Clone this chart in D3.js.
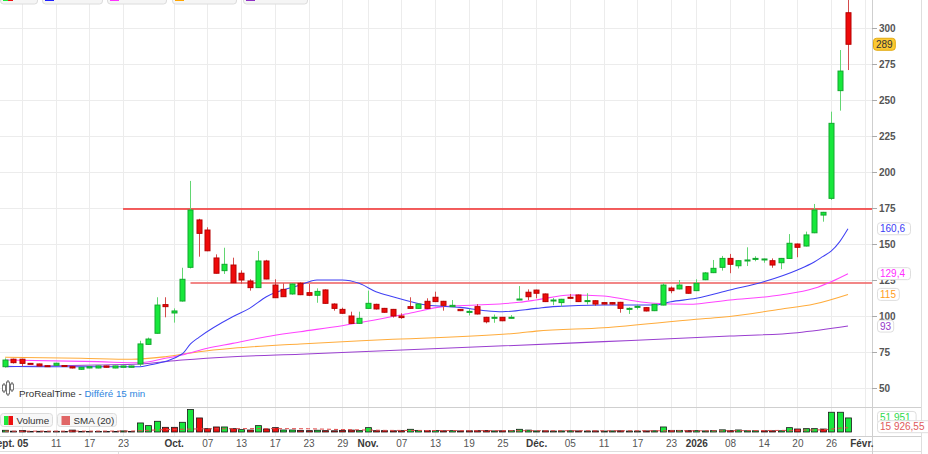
<!DOCTYPE html>
<html>
<head>
<meta charset="utf-8">
<script src="https://cdn.jsdelivr.net/npm/d3@7"></script>
<style>
  body { margin: 0; background: #fff; }
  svg { display: block; font-family: "Liberation Sans", Arial, sans-serif; }
</style>
</head>
<body>
<svg id="chart" width="928" height="454"></svg>
<script>
// daily candles, index 0 = 3 sept. 2025, index 100 = 28 janv. 2026
const opens = [
  64.8, 70.0, 70.0, 67.1, 66.7, 65.5, 65.8, 65.6, 64.8, 63.0,
  63.9, 63.9, 65.3, 63.9, 64.4, 64.4, 66.7, 80.3, 88.0, 107.9,
  102.1, 110.4, 133.8, 166.7, 159.7, 140.3, 131.5, 135.4, 129.7, 124.3,
  119.7, 138.2, 121.5, 118.5, 115.3, 122.7, 116.2, 114.4, 118.1, 108.3,
  104.6, 100.0, 94.9, 105.3, 108.1, 105.3, 104.6, 100.0, 106.5, 105.3,
  110.2, 113.0, 110.2, 106.5, 104.6, 103.0, 106.5, 99.1, 98.5, 99.1,
  98.5, 111.6, 116.5, 118.0, 115.3, 110.9, 109.3, 113.0, 114.6, 110.4,
  110.6, 109.3, 109.3, 109.5, 104.6, 106.3, 105.8, 103.7, 107.6, 119.4,
  118.8, 120.4, 117.6, 125.2, 130.1, 133.8, 140.0, 134.9, 138.6, 139.9,
  139.4, 138.4, 137.0, 140.0, 150.0, 148.6, 157.8, 170.1, 181.7, 256.5,
  310.6
];
const highs = [
  70.6, 70.4, 70.3, 67.4, 66.9, 65.8, 67.5, 65.9, 65.0, 64.6,
  65.0, 65.5, 65.5, 65.5, 65.5, 65.5, 82.8, 85.0, 113.0, 113.0,
  105.3, 133.5, 193.8, 167.5, 161.6, 142.8, 147.4, 140.5, 131.7, 125.5,
  145.1, 139.0, 125.5, 122.7, 122.7, 123.5, 122.2, 119.2, 118.5, 108.8,
  105.8, 103.0, 103.0, 117.6, 108.5, 105.6, 104.9, 101.9, 113.0, 108.6,
  112.3, 116.9, 110.5, 111.1, 104.9, 105.0, 108.3, 99.4, 101.0, 99.4,
  100.6, 120.8, 118.5, 118.3, 115.6, 112.5, 111.9, 115.3, 114.9, 115.8,
  110.9, 109.6, 109.6, 109.8, 106.0, 108.0, 106.1, 108.4, 122.7, 120.5,
  125.0, 120.7, 125.5, 130.5, 138.9, 141.7, 143.1, 138.7, 147.7, 141.5,
  139.9, 140.0, 140.3, 156.9, 150.3, 158.6, 177.8, 172.3, 241.9, 284.7,
  320.0
];
const lows = [
  64.2, 67.0, 65.0, 66.8, 65.0, 64.6, 65.5, 64.8, 63.6, 62.7,
  63.7, 63.7, 64.2, 63.7, 64.2, 64.2, 65.3, 80.0, 87.8, 99.1,
  95.4, 110.0, 133.0, 141.2, 145.0, 129.5, 129.2, 123.0, 122.3, 117.6,
  119.5, 125.5, 112.5, 113.2, 114.8, 114.5, 113.8, 109.2, 108.5, 103.7,
  101.5, 94.5, 94.5, 105.0, 104.5, 102.3, 98.9, 98.0, 105.0, 105.0,
  105.0, 109.7, 103.7, 106.2, 103.4, 100.4, 101.1, 94.9, 95.3, 96.4,
  98.3, 111.0, 111.0, 112.3, 109.7, 107.5, 106.5, 112.0, 109.7, 108.0,
  107.0, 108.0, 108.0, 102.3, 101.4, 104.5, 103.2, 103.4, 107.4, 115.8,
  118.5, 115.5, 117.3, 124.9, 129.8, 131.5, 129.7, 133.0, 134.7, 138.0,
  137.0, 133.5, 132.5, 139.7, 140.8, 148.3, 157.5, 165.5, 180.6, 242.6,
  270.8
];
const closes = [
  69.4, 67.6, 67.1, 67.0, 65.3, 64.8, 67.2, 65.0, 63.9, 64.4,
  64.8, 65.3, 64.4, 65.3, 65.3, 65.3, 80.6, 84.0, 107.6, 106.5,
  103.5, 125.5, 173.6, 157.4, 145.3, 129.7, 135.9, 123.1, 125.0, 119.7,
  138.2, 125.7, 112.7, 113.4, 122.2, 114.8, 114.4, 117.1, 108.8, 105.3,
  101.9, 94.9, 98.4, 108.8, 104.9, 102.6, 100.0, 98.9, 105.3, 108.3,
  105.3, 110.0, 107.4, 107.4, 103.7, 103.2, 101.4, 96.0, 99.1, 96.7,
  99.1, 111.8, 113.4, 115.8, 110.0, 111.1, 111.6, 112.3, 110.0, 110.7,
  108.3, 108.3, 108.3, 105.3, 105.3, 106.7, 103.5, 108.1, 121.5, 117.6,
  121.5, 115.8, 122.7, 129.9, 133.1, 140.0, 135.9, 138.4, 138.9, 140.0,
  139.6, 135.4, 140.0, 150.5, 147.7, 156.3, 173.6, 172.0, 233.8, 270.1,
  288.7
];
const volumes = [
  6300, 3000, 5500, 1500, 2500, 2000, 2500, 2000, 7000, 2000,
  2000, 2000, 2000, 2000, 4000, 2000, 33400, 23500, 39600, 17300,
  17300, 35900, 82800, 51900, 12400, 18600, 18600, 12400, 8700, 7400,
  23500, 11100, 16100, 7400, 7400, 6000, 5000, 6500, 5000, 4500,
  6000, 7000, 5500, 16100, 5000, 5000, 4500, 5000, 10000, 6000,
  5000, 5500, 4500, 5000, 4000, 4500, 5000, 5500, 4000, 4500,
  5000, 10000, 7000, 4000, 4500, 3500, 4000, 4500, 4000, 3500,
  4000, 3500, 4000, 4500, 3500, 3500, 4000, 4500, 18600, 6000,
  6000, 5000, 5000, 4000, 5000, 8000, 5000, 7500, 4500, 4500,
  4500, 4500, 4500, 16100, 11100, 12400, 12400, 11000, 73000, 73000,
  51951
];

// moving averages: [index, value]
const maBlue    = [[0,65.1],[7,64.7],[16,64.7],[17,65.8],[21,73.6],[22,80.6],[23,85.2],[27,99.5],[29,105.3],[31,113.4],[35,121.5],[37,125.0],[40,125.0],[42,122.7],[44,116.9],[46,113.4],[50,107.6],[54,106.0],[57,103.7],[59,103.0],[63,105.3],[65,106.5],[71,107.6],[77,107.6],[79,109.9],[82,112.3],[86,118.1],[90,123.8],[94,132.0],[96,137.5],[97,141.2],[98,145.0],[99,151.5],[100,160.6]];
const maMagenta = [[0,69.4],[11,68.3],[16,67.5],[19,70.6],[21,72.9],[24,77.6],[27,81.0],[31,85.6],[35,89.1],[40,93.3],[48,101.9],[52,106.5],[56,107.6],[61,109.5],[63,111.1],[67,114.6],[71,113.9],[74,111.1],[77,108.8],[81,108.1],[86,111.1],[92,114.6],[96,119.2],[98,123.8],[100,129.4]];
const maOrange  = [[0,71.3],[9,70.6],[15,69.9],[19,71.7],[23,75.2],[27,77.6],[35,80.6],[46,83.8],[61,88.2],[63,89.5],[71,91.9],[82,97.7],[85,99.1],[92,104.7],[96,108.3],[100,115.0]];
const maPurple  = [[0,64.8],[11,66.0],[16,66.7],[21,69.4],[27,71.7],[35,73.4],[71,82.2],[86,86.1],[94,88.4],[100,93.0]];
const volSma    = [[0,3000],[15,3500],[19,9000],[23,11500],[30,12500],[36,12000],[40,9000],[45,6000],[55,5000],[70,4500],[85,4500],[93,6000],[97,8000],[98,10500],[99,13900],[100,15926.55]];

// horizontal levels: value and index where the line starts
const levelValues = [174.1, 122.7];
const levelStarts = [14, 22];

const priceTicks = [50, 75, 100, 125, 150, 175, 200, 225, 250, 275, 300];
const tickIdx    = [2, 6, 10, 14, 20, 24, 28, 32, 36, 40, 43, 47, 51, 55, 59, 63, 67, 71, 75, 79, 82, 86, 90, 94, 98, 102];
const tickLabels = ['Sept. 05','11','17','23','Oct.','07','13','17','23','29','Nov.','07','13','19','25','Déc.','05','11','17','23','2026','08','14','20','26','Févr.'];
const boldLabels = ['Sept. 05','Oct.','Nov.','Déc.','2026','Févr.'];

const W = 928, H = 454;
const plotRight = 872;
const priceBottom = 407, volBottom = 436;

const svg = d3.select('#chart');
const fr = d3.formatLocale({ decimal: ',', thousands: '\u00a0', grouping: [3], currency: ['', '€'] });

const x  = d3.scaleLinear().domain([-0.6, 102.85]).range([0, plotRight]);
const y  = d3.scaleLinear().domain([50, 300]).range([388, 28]);
const yv = d3.scaleLinear().domain([0, 85000]).range([432, 409]);

svg.append('rect').attr('width', W).attr('height', H).attr('fill', '#fff');

svg.append('defs').append('clipPath').attr('id', 'clipPrice')
  .append('rect').attr('x', 0).attr('y', 0).attr('width', plotRight).attr('height', priceBottom);

// grid
const grid = svg.append('g');
grid.selectAll('line.h').data(priceTicks).join('line')
  .attr('x1', 0).attr('x2', plotRight)
  .attr('y1', d => Math.round(y(d)) + 0.5).attr('y2', d => Math.round(y(d)) + 0.5)
  .attr('stroke', '#ececec');
grid.selectAll('line.v').data(tickIdx).join('line')
  .attr('x1', d => Math.round(x(d)) + 0.5).attr('x2', d => Math.round(x(d)) + 0.5)
  .attr('y1', 0).attr('y2', volBottom)
  .attr('stroke', '#ececec');

// top legend boxes (cut off at the top edge)
const legendSw = [['#1ee83c', '#ee1010'], ['#1f1fff'], ['#ff33ff'], ['#ffa500'], ['#8e2fc4']];
const legendX = [0, 42, 107, 172, 243];
const legendW = [37, 60, 59, 64, 64];
legendSw.forEach((sw, k) => {
  svg.append('rect').attr('x', legendX[k] + 0.5).attr('y', -14).attr('width', legendW[k]).attr('height', 18)
    .attr('rx', 3).attr('fill', '#f5f5f5').attr('stroke', '#dcdcdc');
  sw.forEach((c, j) => {
    svg.append('rect').attr('x', legendX[k] + 3 + j * 5).attr('y', -8)
      .attr('width', sw.length > 1 ? 5 : 9).attr('height', 9).attr('fill', c);
  });
});

const price = svg.append('g').attr('clip-path', 'url(#clipPrice)');

// horizontal levels
price.append('line')
  .attr('x1', x(levelStarts[0])).attr('x2', plotRight)
  .attr('y1', Math.round(y(levelValues[0]))).attr('y2', Math.round(y(levelValues[0])))
  .attr('stroke', '#f22a2a').attr('stroke-width', 1.4);
price.append('line')
  .attr('x1', x(levelStarts[1])).attr('x2', plotRight)
  .attr('y1', Math.round(y(levelValues[1]))).attr('y2', Math.round(y(levelValues[1])))
  .attr('stroke', '#f06868').attr('stroke-width', 2).attr('opacity', 0.8);

// moving averages
const maLine = d3.line().x(d => x(d[0])).y(d => y(d[1])).curve(d3.curveMonotoneX);
[[maPurple, '#9a3fd0'], [maOrange, '#ffac3c'], [maMagenta, '#ff44ff'], [maBlue, '#4040f4']].forEach(([data, c]) => {
  price.append('path').datum(data).attr('d', maLine)
    .attr('fill', 'none').attr('stroke', c).attr('stroke-width', 1.05);
});

// candles
const idx = d3.range(closes.length);
const up = i => closes[i] >= opens[i];
const cg = price.append('g');
cg.selectAll('line').data(idx).join('line')
  .attr('x1', i => Math.round(x(i)) + 0.5).attr('x2', i => Math.round(x(i)) + 0.5)
  .attr('y1', i => y(highs[i])).attr('y2', i => y(lows[i]))
  .attr('stroke', i => up(i) ? '#62d672' : '#d44c4c').attr('stroke-width', 1);
cg.selectAll('rect').data(idx).join('rect')
  .attr('x', i => Math.round(x(i)) - 2)
  .attr('y', i => y(Math.max(opens[i], closes[i])))
  .attr('width', 5)
  .attr('height', i => Math.max(1, Math.abs(y(opens[i]) - y(closes[i]))))
  .attr('fill', i => up(i) ? '#17e83b' : '#ee0a0a')
  .attr('stroke', i => up(i) ? '#12a82e' : '#b80000').attr('stroke-width', 1);

// ProRealTime note
const note = svg.append('g');
[[4, 385, 391], [8, 382, 394], [12, 384, 390]].forEach(([cx, y1, y2]) => {
  note.append('line').attr('x1', cx).attr('x2', cx).attr('y1', y1 - 2).attr('y2', y2 + 2).attr('stroke', '#555');
  note.append('rect').attr('x', cx - 1.5).attr('y', y1).attr('width', 3).attr('height', y2 - y1)
    .attr('fill', '#fff').attr('stroke', '#555').attr('stroke-width', 0.8);
});
const nt = note.append('text').attr('x', 19).attr('y', 397).attr('font-size', 9.8);
nt.append('tspan').attr('fill', '#333').text('ProRealTime - ');
nt.append('tspan').attr('fill', '#2f86e0').text('Différé 15 min');

// panel separators
const sep = svg.append('g').attr('stroke', '#cfcfcf');
sep.append('line').attr('x1', 0).attr('x2', 922).attr('y1', priceBottom + 0.5).attr('y2', priceBottom + 0.5);
sep.append('line').attr('x1', 0).attr('x2', 922).attr('y1', volBottom + 0.5).attr('y2', volBottom + 0.5);
sep.append('line').attr('x1', 0).attr('x2', 922).attr('y1', 451.5).attr('y2', 451.5).attr('stroke', '#dedede');
sep.append('line').attr('x1', plotRight + 0.5).attr('x2', plotRight + 0.5).attr('y1', 0).attr('y2', H);
sep.append('line').attr('x1', 921.5).attr('x2', 921.5).attr('y1', 0).attr('y2', H).attr('stroke', '#dedede');
sep.append('line').attr('x1', 118.5).attr('x2', 118.5).attr('y1', 451).attr('y2', H).attr('stroke', '#dedede');

// volume panel
const vg = svg.append('g');
const volUp = i => i === 0 || closes[i] >= closes[i - 1];
vg.selectAll('rect').data(idx).join('rect')
  .attr('x', i => Math.round(x(i)) - 2.5)
  .attr('y', i => yv(volumes[i]))
  .attr('width', 6)
  .attr('height', i => yv(0) - yv(volumes[i]))
  .attr('fill', i => volUp(i) ? '#19e83c' : '#ee1010')
  .attr('stroke', '#1a1a1a').attr('stroke-width', 0.8);
vg.append('path').datum(volSma)
  .attr('d', d3.line().x(d => x(d[0])).y(d => yv(d[1])))
  .attr('fill', 'none').attr('stroke', '#e04848').attr('stroke-width', 1)
  .attr('stroke-dasharray', '4,3');

// volume legend
const vl = svg.append('g').attr('font-size', 9.8).attr('fill', '#333');
vl.append('rect').attr('x', 0.5).attr('y', 413.5).attr('width', 52).attr('height', 13).attr('rx', 3)
  .attr('fill', '#f7f7f7').attr('stroke', '#dcdcdc');
vl.append('rect').attr('x', 4).attr('y', 416).attr('width', 4.5).attr('height', 9).attr('fill', '#1ee83c');
vl.append('rect').attr('x', 8.5).attr('y', 416).attr('width', 4.5).attr('height', 9).attr('fill', '#ee1010');
vl.append('text').attr('x', 16.5).attr('y', 424).text('Volume');
vl.append('rect').attr('x', 57.5).attr('y', 413.5).attr('width', 59).attr('height', 13).attr('rx', 3)
  .attr('fill', '#f7f7f7').attr('stroke', '#dcdcdc');
vl.append('rect').attr('x', 61.5).attr('y', 416).attr('width', 8.5).attr('height', 9).attr('fill', '#e06666');
vl.append('text').attr('x', 73.5).attr('y', 424).text('SMA (20)');

// right price axis
const yAxis = d3.axisRight(y).tickValues(priceTicks).tickSize(5).tickPadding(2).tickFormat(d3.format('d'));
const ya = svg.append('g').attr('transform', `translate(${plotRight},0)`).call(yAxis);
ya.select('.domain').remove();
ya.selectAll('.tick line').attr('stroke', '#aaa');
ya.selectAll('.tick text').attr('fill', '#555').attr('font-size', 10).attr('font-weight', 'bold')
  .attr('font-family', '"Liberation Sans", Arial, sans-serif');

// value tags on the axis
function tag(yPos, label, color, fill, stroke, x0) {
  const t = svg.append('g');
  const w = label.length * 5.6 + 5;
  t.append('rect').attr('x', x0 + 0.5).attr('y', yPos - 6).attr('width', w).attr('height', 12)
    .attr('rx', 3).attr('fill', fill).attr('stroke', stroke);
  t.append('text').attr('x', x0 + 3).attr('y', yPos + 3.6).attr('font-size', 10)
    .attr('fill', color).text(label);
}
const last = closes.length - 1;
tag(y(closes[last]), fr.format('.0f')(closes[last]), '#333', '#fcc934', '#e2aa10', 873);
tag(y(maBlue[maBlue.length - 1][1]), fr.format('.1f')(maBlue[maBlue.length - 1][1]), '#3a3af5', '#fff', '#dedede', 877);
tag(y(maMagenta[maMagenta.length - 1][1]), fr.format('.1f')(maMagenta[maMagenta.length - 1][1]), '#ff2cff', '#fff', '#dedede', 877);
tag(y(maOrange[maOrange.length - 1][1]), fr.format('.0f')(maOrange[maOrange.length - 1][1]), '#ff9d1a', '#fff', '#dedede', 877);
tag(y(maPurple[maPurple.length - 1][1]), fr.format('.0f')(maPurple[maPurple.length - 1][1]), '#9436c8', '#fff', '#dedede', 877);
tag(yv(volumes[last]) - 0.5, fr.format(',.0f')(volumes[last]), '#2fd94c', '#fff', '#dedede', 877);
tag(yv(volSma[volSma.length - 1][1]) - 1, fr.format(',.2f')(volSma[volSma.length - 1][1]), '#e05a5a', '#fff', '#dedede', 877);

// bottom date axis
const xAxis = d3.axisBottom(x).tickValues(tickIdx).tickSize(0).tickPadding(3)
  .tickFormat((d, i) => tickLabels[i]);
const xa = svg.append('g').attr('transform', `translate(0,${volBottom + 1})`).call(xAxis);
xa.select('.domain').remove();
xa.selectAll('.tick text')
  .attr('font-size', 10)
  .attr('font-family', '"Liberation Sans", Arial, sans-serif')
  .attr('fill', d => boldLabels.includes(tickLabels[tickIdx.indexOf(d)]) ? '#3a3a3a' : '#555')
  .attr('font-weight', d => boldLabels.includes(tickLabels[tickIdx.indexOf(d)]) ? 'bold' : 'normal');
// first label keeps its day number on the tick, last one stops at the axis edge
xa.selectAll('.tick text').filter(d => d === tickIdx[0]).attr('text-anchor', 'end').attr('dx', 6);
xa.selectAll('.tick text').filter(d => d === tickIdx[tickIdx.length - 1])
  .attr('text-anchor', 'end').attr('x', plotRight + 1 - x(tickIdx[tickIdx.length - 1]));
</script>
</body>
</html>
